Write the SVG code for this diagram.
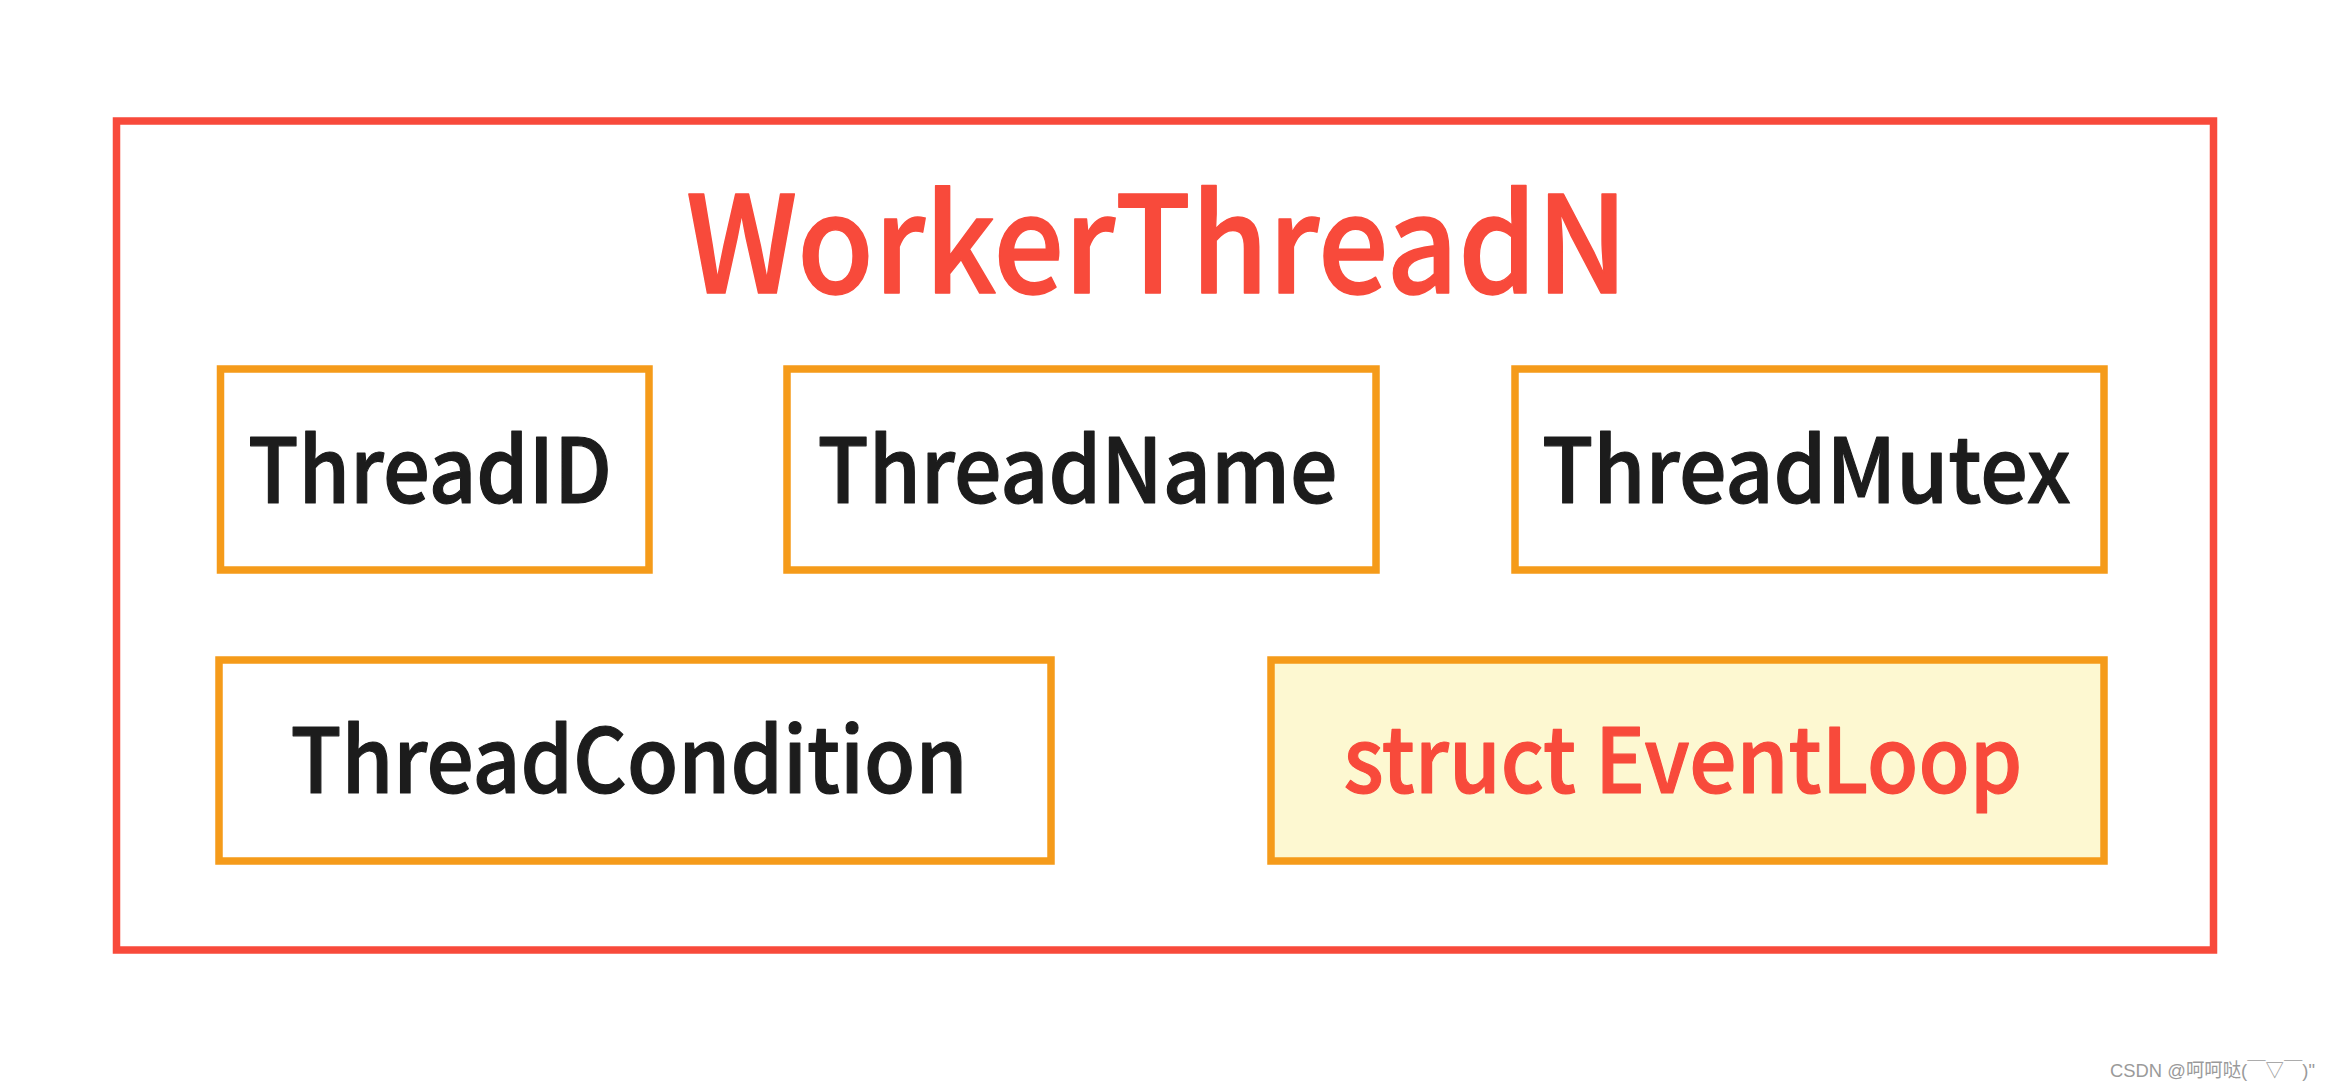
<svg xmlns="http://www.w3.org/2000/svg" width="2335" height="1088" viewBox="0 0 2335 1088">
  <style>
    .outer { fill: #ffffff; stroke: #f84a3b; stroke-width: 7.5; }
    .box { fill: #ffffff; stroke: #f59b1a; stroke-width: 7.5; }
    .box.hl { fill: #fdf8d1; }
    .lbl { font-family: "Noto Sans CJK SC", "Noto Sans", "Liberation Sans", sans-serif; font-weight: 500; font-size: 90px; fill: #1c1c1c; stroke: #1c1c1c; stroke-width: 1.2; stroke-linejoin: round; text-anchor: middle; }
    .lbl.red { fill: #f84a3b; stroke: #f84a3b; }
    .title { font-family: "Noto Sans CJK SC", "Noto Sans", "Liberation Sans", sans-serif; font-weight: 500; font-size: 135px; fill: #f84a3b; stroke: #f84a3b; stroke-width: 1.5; stroke-linejoin: round; text-anchor: middle; }
    .wm { font-family: "Liberation Sans", "Noto Sans CJK SC", sans-serif; font-size: 19px; fill: #9a9a9a; }
  </style>
  <rect width="2335" height="1088" fill="#ffffff"/>
  <g id="worker-thread">
    <rect class="outer" x="116.5" y="121" width="2097" height="829"/>
    <text class="title" x="1157" y="293" textLength="942" lengthAdjust="spacingAndGlyphs">WorkerThreadN</text>
  </g>
  <g id="thread-id">
    <rect class="box" x="220.5" y="369" width="428.5" height="201"/>
    <text class="lbl" x="430" y="503" textLength="364" lengthAdjust="spacingAndGlyphs">ThreadID</text>
  </g>
  <g id="thread-name">
    <rect class="box" x="787" y="369" width="589" height="201"/>
    <text class="lbl" x="1077.5" y="503" textLength="520" lengthAdjust="spacingAndGlyphs">ThreadName</text>
  </g>
  <g id="thread-mutex">
    <rect class="box" x="1515" y="369" width="589" height="201"/>
    <text class="lbl" x="1806.5" y="503" textLength="529" lengthAdjust="spacingAndGlyphs">ThreadMutex</text>
  </g>
  <g id="thread-condition">
    <rect class="box" x="219" y="660" width="832" height="201"/>
    <text class="lbl" x="629" y="793" textLength="677" lengthAdjust="spacingAndGlyphs">ThreadCondition</text>
  </g>
  <g id="event-loop">
    <rect class="box hl" x="1271" y="660" width="833" height="201"/>
    <text class="lbl red" x="1683" y="793" textLength="679" lengthAdjust="spacingAndGlyphs">struct EventLoop</text>
  </g>
  <g id="connectors"></g>
  <text class="wm" x="2110" y="1077" textLength="205" lengthAdjust="spacingAndGlyphs">CSDN @呵呵哒(￣▽￣)"</text>
</svg>
